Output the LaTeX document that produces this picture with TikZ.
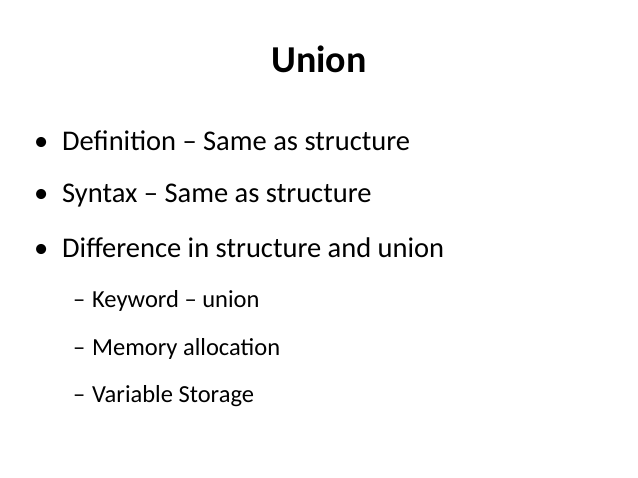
\documentclass[tikz,border=0pt]{standalone}
\usepackage{fontspec}
\setmainfont{Carlito}
\begin{document}
\begin{tikzpicture}[x=1pt,y=-1pt,
  bul/.style={anchor=base west,inner sep=0pt,font=\fontsize{28.5}{33}\selectfont},
  sub/.style={anchor=base west,inner sep=0pt,font=\fontsize{24.5}{29}\selectfont}]
  \useasboundingbox (0,0) rectangle (638,478);
  \node[anchor=base,inner sep=0pt,font=\fontsize{38}{44}\selectfont\bfseries] (title) at (319,73) {Union};
  \node[bul] (bdef) at (34,151) {•};
  \node[bul] (def) at (62,151) {Definition – Same as structure};
  \node[bul] (bsyn) at (34,203) {•};
  \node[bul] (syn) at (62,203) {Syntax – Same as structure};
  \node[bul] (bdif) at (34,258) {•};
  \node[bul] (dif) at (62,258) {Difference in structure and union};
  \node[sub] (dkey) at (73,308) {–};
  \node[sub] (key) at (92,308) {Keyword – union};
  \node[sub] (dmem) at (73,356) {–};
  \node[sub] (mem) at (92,356) {Memory allocation};
  \node[sub] (dvar) at (73,403) {–};
  \node[sub] (var) at (92,403) {Variable Storage};
\end{tikzpicture}
\end{document}
